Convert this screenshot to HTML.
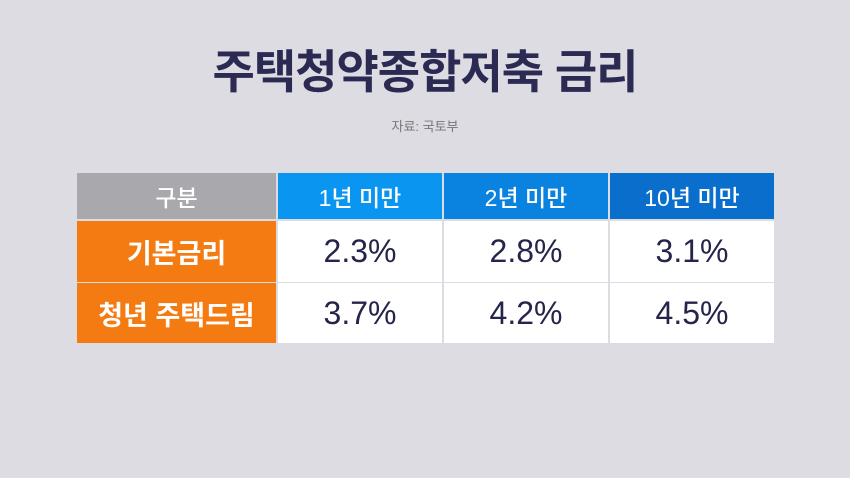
<!DOCTYPE html>
<html><head><meta charset="utf-8">
<style>
body{margin:0;width:850px;height:478px;background:#dcdce2;font-family:"Liberation Sans","Noto Sans CJK KR",sans-serif;position:relative;overflow:hidden}
#title{position:absolute;left:0;width:850px;top:40px;text-align:center;font-size:46px;font-weight:bold;color:#2b2a52;letter-spacing:-1px;line-height:64px}
#src{position:absolute;left:0;width:850px;top:118px;text-align:center;font-size:13px;color:#777;line-height:18px}
.c{position:absolute;display:flex;align-items:center;justify-content:center;box-sizing:border-box}
.h{color:#fff;font-size:23px;font-weight:500}
.r{color:#fff;font-size:27px;font-weight:bold;background:#f47a12}
.v{background:#fff;color:#25244a;font-size:32px}
</style></head><body>
<div id="title">주택청약종합저축 금리</div>
<div id="src">자료: 국토부</div>
<div id="tbl"></div>
<script>
const columns=["1년 미만","2년 미만","10년 미만"];
const rows=["기본금리","청년 주택드림"];
const rateBasic=["2.3%","2.8%","3.1%"];
const rateYouth=["3.7%","4.2%","4.5%"];
const values=[rateBasic,rateYouth];
const t=document.getElementById('tbl');
const colX=[77,278,444,610],colW=[199,164,164,164];
const rowY=[173,221,283],rowH=[46,61,60];
const hdrBg=["#0a96f0","#0a82e0","#0a6ecc"];
function cell(x,y,w,h,cls,txt,bg){const d=document.createElement('div');d.className='c '+cls;d.style.left=x+'px';d.style.top=y+'px';d.style.width=w+'px';d.style.height=h+'px';if(bg)d.style.background=bg;d.textContent=txt;t.appendChild(d);return d;}
let g=cell(colX[0],rowY[0],colW[0],rowH[0],'h','구분','#a9a9ad');


columns.forEach((c,i)=>{const d=cell(colX[i+1],rowY[0],colW[i+1],rowH[0],'h',c,hdrBg[i]);

});
rows.forEach((r,j)=>{const d=cell(colX[0],rowY[j+1],colW[0],rowH[j+1],'r',r);


values[j].forEach((v,i)=>{const e=cell(colX[i+1],rowY[j+1],colW[i+1],rowH[j+1],'v',v);

});});
</script>
</body></html>
